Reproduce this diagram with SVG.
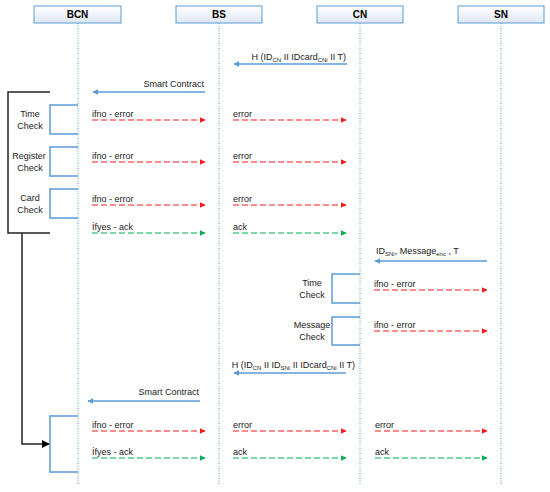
<svg xmlns="http://www.w3.org/2000/svg" width="550" height="492" viewBox="0 0 550 492">
<defs>
<linearGradient id="hg" x1="0" y1="0" x2="0" y2="1">
<stop offset="0" stop-color="#ffffff"/>
<stop offset="1" stop-color="#dfe6f2"/>
</linearGradient>
<marker id="ab" viewBox="0 0 10 10" refX="9" refY="5" markerWidth="6" markerHeight="6" orient="auto" markerUnits="userSpaceOnUse"><path d="M0,0 L10,5 L0,10 z" fill="#5b9bd5"/></marker>
<marker id="ar" viewBox="0 0 10 10" refX="9" refY="5" markerWidth="6" markerHeight="6" orient="auto" markerUnits="userSpaceOnUse"><path d="M0,0 L10,5 L0,10 z" fill="#ff1a1a"/></marker>
<marker id="ag" viewBox="0 0 10 10" refX="9" refY="5" markerWidth="6" markerHeight="6" orient="auto" markerUnits="userSpaceOnUse"><path d="M0,0 L10,5 L0,10 z" fill="#00b050"/></marker>
<marker id="ak" viewBox="0 0 10 10" refX="9" refY="5" markerWidth="8" markerHeight="8" orient="auto" markerUnits="userSpaceOnUse"><path d="M0,0 L10,5 L0,10 z" fill="#000"/></marker>
</defs>
<style>
text{font-family:"Liberation Sans",Arial,sans-serif;font-size:9px;fill:#222}
.hd{font-weight:bold;font-size:10px;fill:#000;text-anchor:middle}
.hbox{fill:url(#hg);stroke:#5b9bd5;stroke-width:1}
.life{stroke:#5b9bd5;stroke-width:1;stroke-dasharray:1 1.5;fill:none}
.msg{stroke:#5b9bd5;stroke-width:1.5;fill:none;marker-end:url(#ab)}
.err{stroke:#ff1a1a;stroke-width:1.2;stroke-dasharray:6 3;fill:none;marker-end:url(#ar)}
.ack{stroke:#00b050;stroke-width:1.2;stroke-dasharray:6 3;fill:none;marker-end:url(#ag)}
.chk{stroke:#5b9bd5;stroke-width:1.5;fill:none}
.blk{stroke:#222;stroke-width:1.5;fill:none}
.c{text-anchor:middle}
.e{text-anchor:end}
.sub{font-size:6px}
</style>
<g id="BCN"><rect class="hbox" x="34" y="6" width="87" height="17"/><text class="hd" x="77.5" y="18">BCN</text><line class="life" x1="78" y1="23" x2="78" y2="484"/></g>
<g id="BS"><rect class="hbox" x="176" y="6" width="86" height="17"/><text class="hd" x="219" y="18">BS</text><line class="life" x1="219" y1="23" x2="219" y2="484"/></g>
<g id="CN"><rect class="hbox" x="317" y="6" width="86" height="17"/><text class="hd" x="360" y="18">CN</text><line class="life" x1="360" y1="23" x2="360" y2="484"/></g>
<g id="SN"><rect class="hbox" x="458" y="6" width="86" height="17"/><text class="hd" x="501" y="18">SN</text><line class="life" x1="501" y1="23" x2="501" y2="484"/></g>
<g id="bcn-checks">
<path class="chk" d="M78,105 H50 V134 H78"/>
<text class="c" x="30" y="117">Time</text><text class="c" x="30" y="129">Check</text>
<path class="chk" d="M78,147 H50 V176 H78"/>
<text class="c" x="29" y="159">Register</text><text class="c" x="30" y="171">Check</text>
<path class="chk" d="M78,189 H50 V218 H78"/>
<text class="c" x="30" y="201">Card</text><text class="c" x="30" y="213">Check</text>
<path class="chk" d="M78,416 H50 V472 H78"/>
</g>
<g id="cn-checks">
<path class="chk" d="M360,274 H332 V303 H360"/>
<text class="c" x="312" y="286">Time</text><text class="c" x="312" y="298">Check</text>
<path class="chk" d="M360,317 H332 V345 H360"/>
<text class="c" x="312" y="328">Message</text><text class="c" x="312" y="340">Check</text>
</g>
<g id="bracket">
<path class="blk" d="M50,92 H8 V233 H50"/>
<path class="blk" d="M22,233 V444 H49" marker-end="url(#ak)"/>
</g>
<g id="connectors">
<line class="msg" x1="347" y1="64" x2="234" y2="64"/>
<text class="e" x="346" y="60">H (ID<tspan class="sub" dy="2">CN</tspan><tspan dy="-2"> II IDcard</tspan><tspan class="sub" dy="2">CNi</tspan><tspan dy="-2"> II T)</tspan></text>
<line class="msg" x1="205" y1="92" x2="93" y2="92"/>
<text class="e" x="204" y="87">Smart Contract</text>

<line class="err" x1="92" y1="120" x2="205" y2="120"/><text x="92" y="117">ifno - error</text>
<line class="err" x1="233" y1="120" x2="346" y2="120"/><text x="233" y="117">error</text>
<line class="err" x1="92" y1="162" x2="205" y2="162"/><text x="92" y="159">ifno - error</text>
<line class="err" x1="233" y1="162" x2="346" y2="162"/><text x="233" y="159">error</text>
<line class="err" x1="92" y1="205" x2="205" y2="205"/><text x="92" y="202">ifno - error</text>
<line class="err" x1="233" y1="205" x2="346" y2="205"/><text x="233" y="202">error</text>
<line class="ack" x1="92" y1="233" x2="205" y2="233"/><text x="92" y="230">İfyes - ack</text>
<line class="ack" x1="233" y1="233" x2="346" y2="233"/><text x="233" y="230">ack</text>

<line class="msg" x1="487" y1="261" x2="375" y2="261"/>
<text x="376" y="254">ID<tspan class="sub" dy="2">SNi</tspan><tspan dy="-2">, Message</tspan><tspan class="sub" dy="2">enc</tspan><tspan dy="-2"> , T</tspan></text>

<line class="err" x1="374" y1="290" x2="487" y2="290"/><text x="374" y="287">ifno - error</text>
<line class="err" x1="374" y1="331" x2="487" y2="331"/><text x="374" y="328">ifno - error</text>

<line class="msg" x1="346" y1="373" x2="234" y2="373"/>
<text class="e" x="355" y="368">H (ID<tspan class="sub" dy="2">CN</tspan><tspan dy="-2"> II ID</tspan><tspan class="sub" dy="2">SNi</tspan><tspan dy="-2"> II IDcard</tspan><tspan class="sub" dy="2">CNi</tspan><tspan dy="-2"> II T)</tspan></text>

<line class="msg" x1="200" y1="401" x2="88" y2="401"/>
<text class="e" x="199" y="395">Smart Contract</text>

<line class="err" x1="92" y1="431" x2="205" y2="431"/><text x="92" y="428">ifno - error</text>
<line class="err" x1="233" y1="431" x2="346" y2="431"/><text x="233" y="428">error</text>
<line class="err" x1="375" y1="431" x2="487" y2="431"/><text x="375" y="428">error</text>
<line class="ack" x1="92" y1="458" x2="205" y2="458"/><text x="92" y="455">İfyes - ack</text>
<line class="ack" x1="233" y1="458" x2="346" y2="458"/><text x="233" y="455">ack</text>
<line class="ack" x1="375" y1="458" x2="487" y2="458"/><text x="375" y="455">ack</text>
</g>
</svg>
